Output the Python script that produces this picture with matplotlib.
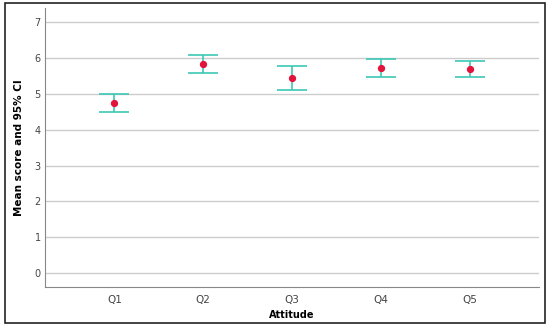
import numpy as np
import matplotlib.pyplot as plt
from matplotlib.patches import Rectangle

# Mean scores with 95% CI per attitude item
items = ['Q1', 'Q2', 'Q3', 'Q4', 'Q5']
means = [4.75, 5.84, 5.44, 5.73, 5.69]
ci_low = [4.50, 5.60, 5.10, 5.47, 5.48]
ci_high = [5.01, 6.08, 5.78, 5.99, 5.91]

x = np.arange(1, len(items) + 1)
means = np.array(means)
err = [means - np.array(ci_low), np.array(ci_high) - means]

fig = plt.figure(figsize=(5.5, 3.27), dpi=100)
ax = fig.add_axes([0.082, 0.122, 0.898, 0.853])

ax.errorbar(x, means, yerr=err, fmt='none', ecolor='#3cc8b4',
            elinewidth=1.2, capsize=11, capthick=1.2, zorder=3)
ax.scatter(x, means, s=18, color='#e2143c', zorder=4)

ax.set_xlim(0.22, 5.78)
ax.set_ylim(-0.4, 7.4)
ax.set_xticks(x)
ax.set_xticklabels(items)
ax.set_yticks(range(0, 8))
ax.tick_params(axis='y', length=0, labelsize=7, colors='#444444', pad=3)
ax.tick_params(axis='x', length=0, labelsize=7.5, colors='#444444', pad=6)

ax.grid(axis='y', color='#cccccc', linewidth=1)
ax.set_axisbelow(True)
for s in ['top', 'right']:
    ax.spines[s].set_visible(False)
for s in ['left', 'bottom']:
    ax.spines[s].set_color('#888888')
    ax.spines[s].set_linewidth(0.8)

ax.set_ylabel('Mean score and 95% CI', fontsize=7.5, fontweight='bold', labelpad=8)
ax.set_xlabel('Attitude', fontsize=7, fontweight='bold', labelpad=3)

fig.patches.append(Rectangle((0.009, 0.012), 0.982, 0.978, transform=fig.transFigure,
                             fill=False, edgecolor='#222222', linewidth=1.2))

fig.savefig('out.png', dpi=100)
